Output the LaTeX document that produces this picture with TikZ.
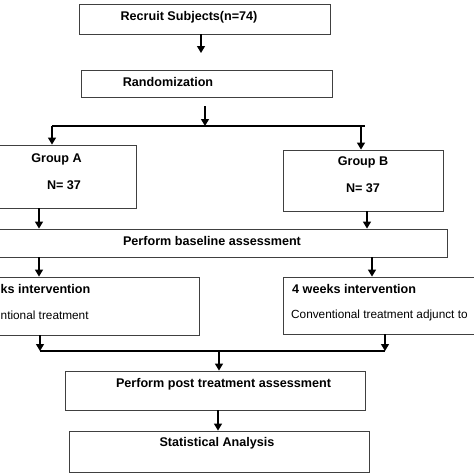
\documentclass[tikz,border=0pt]{standalone}
\usepackage{fontspec}
\setmainfont{Liberation Sans}
\usetikzlibrary{arrows.meta}
\begin{document}
\begin{tikzpicture}[x=1pt,y=-1pt,
    box/.style={draw=black!75,line width=0.9pt,inner sep=0pt},
    txt/.style={font=\fontsize{12.6}{14}\selectfont\bfseries,inner sep=0pt},
    plain/.style={font=\fontsize{11.8}{14}\selectfont,inner sep=0pt},
    ln/.style={line width=1.3pt},
    arr/.style={line width=1.3pt,-{Triangle[width=8pt,length=7pt]}}]
            \useasboundingbox (0,0) rectangle (474,474);
            \clip (0,0) rectangle (474,474);
            % boxes
            \node (rec) [box,minimum width=251,minimum height=30] at (204.5,19) {};
            \node (rand) [box,minimum width=251,minimum height=27] at (206.5,83.5) {};
            \node (grpA) [box,minimum width=160,minimum height=63] at (56,176.5) {};
            \node (grpB) [box,minimum width=160,minimum height=61] at (363,180.5) {};
            \node (base) [box,minimum width=470,minimum height=28] at (212,243) {};
            \node (intA) [box,minimum width=243,minimum height=58] at (77.5,306) {};
            \node (intB) [box,minimum width=243,minimum height=57] at (404.5,305.5) {};
            \node (post) [box,minimum width=300,minimum height=39] at (215,390.5) {};
            \node (stat) [box,minimum width=300,minimum height=41] at (219,451.5) {};
            % texts
            \node (t1) [txt] at (189,17) {Recruit Subjects(n=74)};
            \node (t2) [txt] at (168,82) {Randomization};
            \node (t3) [txt] at (56.5,159) {Group A};
            \node (t4) [txt] at (64,185) {N= 37};
            \node (t5) [txt] at (363,162) {Group B};
            \node (t6) [txt] at (363,188) {N= 37};
            \node (t7) [txt] at (212,241) {Perform baseline assessment};
            \node (t8) [txt,anchor=west] at (0.5,289) {ks intervention};
            \node (t9) [plain,anchor=west] at (0.5,315) {ntional treatment};
            \node (t10) [txt,anchor=west] at (292,289) {4 weeks intervention};
            \node (t11) [plain,anchor=west] at (291,315) {Conventional treatment adjunct to};
            \node (t12) [txt] at (223.5,384) {Perform post treatment assessment};
            \node (t13) [txt] at (217,443) {Statistical Analysis};
            % connectors
            \coordinate (c1) at (201,53);
            \coordinate (c2) at (205,106);
            \coordinate (c3) at (205,126);
            \coordinate (sl) at (52,126);
            \coordinate (sr) at (365,126);
            \coordinate (gr) at (361,126);
            \coordinate (xa) at (39,0);
            \coordinate (xb) at (367,0);
            \coordinate (ya) at (39,0);
            \coordinate (yb) at (372,0);
            \coordinate (ma) at (40,351);
            \coordinate (mb) at (385,351);
            \coordinate (mc) at (219,351);
            \coordinate (xs) at (218,0);
            \draw[arr] (rec.south -| c1) -- (c1);
            \draw[arr] (c2) -- (c3);
            \draw[ln] (sl) -- (sr);
            \draw[arr] (sl) -- (grpA.north -| sl);
            \draw[arr] (gr) -- (grpB.north -| gr);
            \draw[arr] (grpA.south -| xa) -- (base.north -| xa);
            \draw[arr] (grpB.south -| xb) -- (base.north -| xb);
            \draw[arr] (base.south -| ya) -- (intA.north -| ya);
            \draw[arr] (base.south -| yb) -- (intB.north -| yb);
            \draw[arr] (intA.south -| ma) -- (ma);
            \draw[arr] (intB.south -| mb) -- (mb);
            \draw[ln] (ma) -- (mb);
            \draw[arr] (mc) -- (post.north -| mc);
            \draw[arr] (post.south -| xs) -- (stat.north -| xs);
\end{tikzpicture}
\end{document}
